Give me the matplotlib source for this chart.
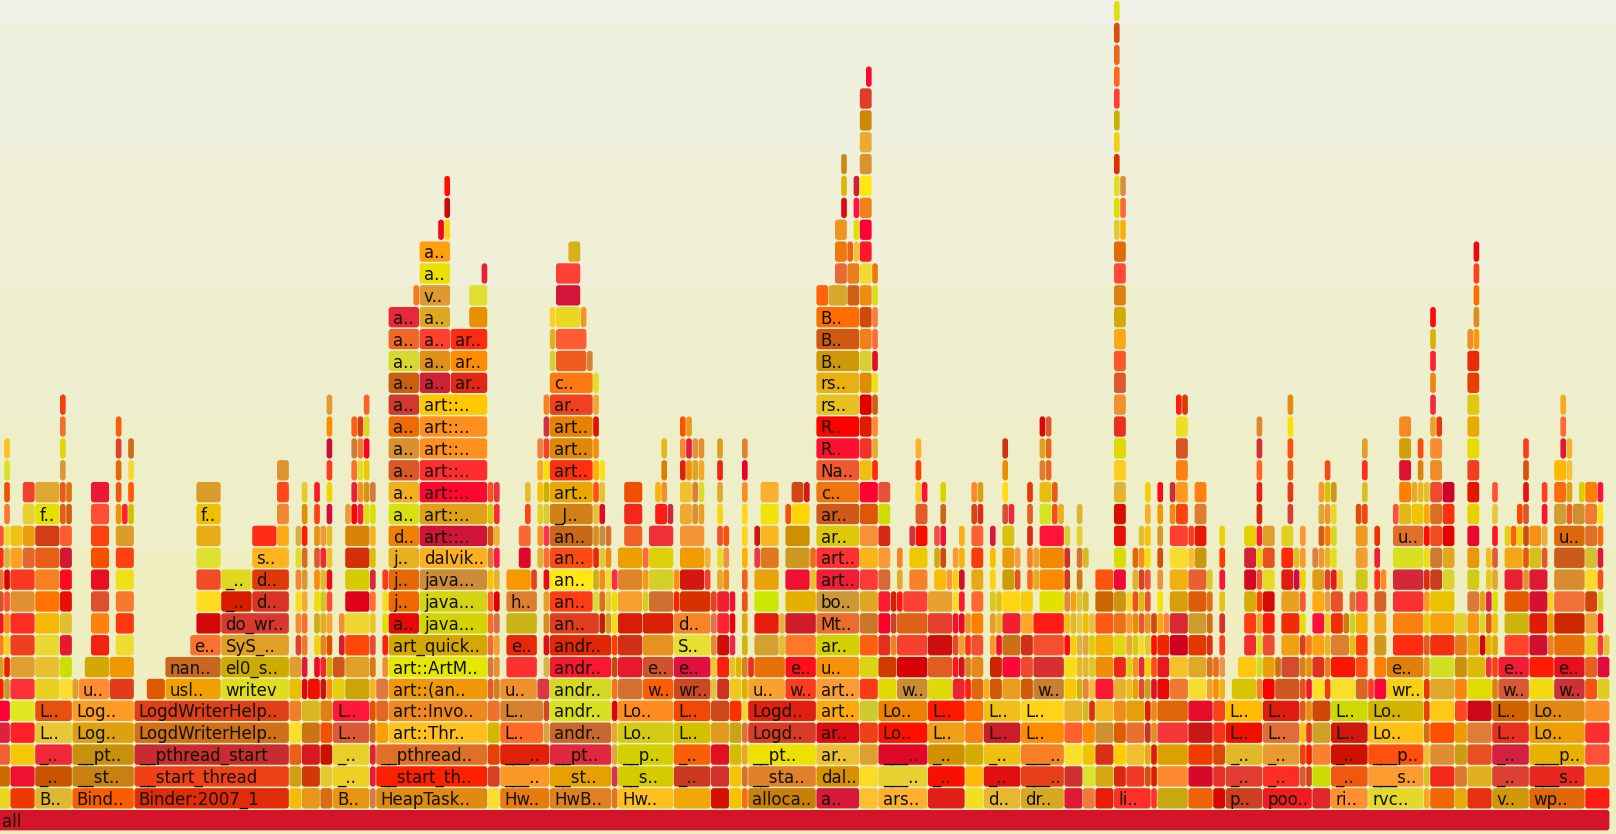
import matplotlib
matplotlib.use('Agg')
import matplotlib.pyplot as plt
from matplotlib.patches import FancyBboxPatch

# Flame graph frames per stack level: (first sample, sample count, colour, label)
level_00 = [(-1,260,'d41428','all')]
level_01 = [(-1,2,'e8d820'),(1,4,'ee3a00'),(5,6,'e0b830','B..'),(11,10,'fa5c00','Bind..'),(21,25,'e02c08','Binder:2007_1'),(46,2,'f5bb0a'),(48,3,'e8951a'),(51,2,'d96c14'),(53,6,'e8960f','B..'),(59,1,'d67a4a'),(60,18,'e08a10','HeapTask..'),(78,2,'fedc30'),(80,8,'e87a10','Hw..'),
 (88,10,'e08020','HwB..'),(98,1,'e0761c'),(99,9,'ffc020','Hw..'),(108,6,'f0a808'),(114,3,'d81000'),(117,2,'f4c400'),(119,1,'ff6a10'),(120,11,'c88008','alloca..'),(131,7,'d81838','a..'),(138,3,'ffc030'),(141,8,'ffb030','ars..'),(149,6,'e02018'),(155,3,'f0e020'),(158,6,'e8b830','d..'),(164,7,'d8a820','dr..'),(171,3,'e01830'),
 (174,2,'ee7a3e'),(176,3,'e81c08'),(179,6,'ff3028','li..'),(185,1,'ff3030'),(186,5,'c8a810'),(191,4,'ee6208'),(195,2,'d80800'),(197,6,'cc4020','p..'),(203,8,'ee1c20','poo..'),(211,3,'e02828'),(214,6,'ff9030','ri..'),(220,9,'e4d828','rvc..'),(229,1,'f8a820'),(230,4,'ee6808'),(234,2,'e8ac08'),(236,4,'e83010'),(240,6,'d09808','v..'),(246,9,'e06808','wp..'),(255,4,'ff1c14')]
level_02 = [(-1,2,'d06a00'),(1,4,'f01030'),(5,6,'c85400','_..'),(11,10,'c88010','__st..'),(21,25,'f04018','__start_thread'),(46,2,'d0a010'),(48,3,'d03808'),(51,2,'e8c830'),(53,6,'eed020','_..'),(59,1,'e81838'),(60,18,'ff2000','__start_th..'),(78,2,'d84028'),(80,8,'fc9824','___..'),
 (88,10,'e8a000','__st..'),(98,1,'d83050'),(99,9,'d4cc00','__s..'),(108,6,'cc3820','_..'),(114,3,'d43030'),(117,2,'f4c408'),(119,1,'d87030'),(120,11,'e08028','__sta..'),(131,7,'d89000','dal..'),(138,3,'f8dc28'),(141,8,'e8d030','___..'),(149,6,'f81000','_..'),(155,3,'ffb808'),(158,6,'e01010','_..'),(164,7,'e84018','___..'),(171,3,'d03030'),
 (174,2,'d8e430'),(176,3,'d4a810'),(179,2,'dd2810'),(181,3,'f03a28'),(184,1,'d05010'),(185,1,'d82000'),(186,5,'ff8830'),(191,4,'d80828'),(195,2,'e83028'),(197,6,'e03c30','_..'),(203,6,'ff2c24','_..'),(209,1,'d85a30'),(210,1,'d8401f'),(211,3,'ccdc00'),(214,6,'f05810','_..'),(220,9,'fc9c30','___s..'),(229,1,'d8c020'),(230,4,'f42818'),(234,2,'dc7830'),(236,4,'e0b020'),(240,6,'dc4030','_..'),(246,9,'e82820','___s..'),(255,4,'e8a000')]
level_03 = [(-1,2,'f06030'),(1,4,'f4c808'),(5,6,'ee2838','_..'),(11,10,'c8900c','__pt..'),(21,25,'c82c30','__pthread_start'),(46,2,'e8601a'),(48,3,'d81820'),(51,2,'c81000'),(53,6,'e8d028','_..'),(59,1,'e02040'),(60,18,'e07028','__pthread..'),(78,2,'e84008'),(80,8,'e02008','___..'),
 (88,10,'e02840','__pt..'),(98,1,'dcaa30'),(99,9,'d4d000','__p..'),(108,6,'f86008','_..'),(114,3,'e01020'),(117,2,'d4bc00'),(119,1,'e8a828'),(120,11,'eee000','__pt..'),(131,7,'ecc030','ar..'),(138,3,'e0a030'),(141,8,'e00828','___..'),(149,6,'d09000','_..'),(155,3,'d4ac00'),(158,6,'f0c010','_..'),(164,7,'f88024','___..'),(171,3,'ffe028'),
 (174,2,'f0c400'),(176,3,'d83018'),(179,2,'ffcc00'),(181,3,'f0c030'),(184,1,'e8a818'),(185,1,'dc1c08'),(186,5,'dca000'),(191,4,'f03c00'),(195,2,'d84808'),(197,6,'e0b828','_..'),(203,6,'e89c30','_..'),(209,1,'f04010'),(210,1,'f02000'),(211,3,'f88030'),(214,6,'d01000','_..'),(220,9,'ff5010','___p..'),(229,1,'f0c030'),(230,4,'e08c30'),(234,2,'cc9c14'),(236,4,'e85020'),(240,6,'d42040','_..'),(246,9,'e8b000','___p..'),(255,4,'ff5038')]
level_04 = [(-1,2,'e02040'),(1,4,'ff2028'),(5,6,'e8c838','L..'),(11,10,'dca010','Log..'),(21,25,'d07018','LogdWriterHelp..'),(46,2,'f8e028'),(48,3,'cc7410'),(51,2,'f05008'),(53,6,'dc5838','L..'),(59,1,'cc6818'),(60,2,'f8a008'),(62,16,'ffc020','art::Thr..'),(78,2,'d4b800'),(80,7,'ff6a28','L..'),(87,1,'d8a040'),
 (88,10,'c86830','andr..'),(98,1,'e8a830'),(99,9,'d4cc14','Lo..'),(108,6,'d4c000','L..'),(114,3,'e09a20'),(117,2,'c8a418'),(119,1,'e07038'),(120,11,'d83c28','Logd..'),(131,7,'e00c14','ar..'),(138,3,'f04018'),(141,8,'ff1000','Lo..'),(149,6,'f0a018','L..'),(155,3,'f88010'),(158,6,'cc1c2c','L..'),(164,7,'ff8c00','L..'),(171,3,'ff6030'),
 (174,2,'ff8800'),(176,3,'d09030'),(179,2,'e05c00'),(181,3,'e87030'),(184,1,'cc3030'),(185,1,'e09020'),(186,5,'f43838'),(191,4,'c81818'),(195,2,'fc3018'),(197,6,'f01000','L..'),(203,6,'e06c38','L..'),(209,1,'ffc010'),(210,1,'e83818'),(211,3,'d0a028'),(214,6,'d01810','L..'),(220,9,'ffc014','Lo..'),(229,1,'cc7010'),(230,4,'ff5000'),(234,2,'ec9c00'),(236,4,'e07c38'),(240,6,'e83020','L..'),(246,9,'f09c08','Lo..'),(255,4,'ff2c30')]
level_05 = [(-1,2,'ff0038'),(1,4,'e0e820'),(5,6,'e85010','L..'),(11,10,'fc9c24','Log..'),(21,25,'e04018','LogdWriterHelp..'),(46,2,'ee8028'),(48,3,'d8b820'),(51,2,'e08010'),(53,6,'ff1838','L..'),(59,1,'e85000'),(60,2,'e06820'),(62,16,'f08820','art::Invo..'),(78,2,'f07030'),(80,7,'d88030','L..'),(87,1,'d04820'),
 (88,10,'d8e020','andr..'),(98,1,'e00010'),(99,9,'ff8c20','Lo..'),(108,6,'f04808','L..'),(114,3,'cc4818'),(117,2,'ff3000'),(119,1,'f4d830'),(120,11,'e02010','Logd..'),(131,7,'ffa810','art..'),(138,3,'cccc30'),(141,8,'f08000','Lo..'),(149,6,'ff1800','L..'),(155,3,'fc7000'),(158,6,'f0c018','L..'),(164,7,'ffd418','L..'),(171,3,'e8b428'),
 (174,1,'d4b820'),(175,1,'d83010'),(176,3,'f4b820'),(179,2,'f08c18'),(181,3,'e4a008'),(184,1,'e02000'),(185,1,'e88a20'),(186,5,'e06408'),(191,4,'e80c2c'),(195,2,'fc4018'),(197,6,'ffbc00','L..'),(203,6,'e01c10','L..'),(209,1,'e05a20'),(210,1,'e88c10'),(211,3,'d04808'),(214,6,'cfd800','L..'),(220,9,'d4b400','Lo..'),(229,1,'f04000'),(230,4,'ffc814'),(234,2,'ff4820'),(236,4,'cc0818'),(240,6,'d06000','L..'),(246,9,'e08810','Lo..'),(255,4,'fc8c28')]
level_06 = [(-1,1,'ff2000'),(0,1,'c89830'),(1,4,'ff3038'),(5,4,'e8d020'),(9,2,'ffdc30'),(11,1,'e0a028'),(12,5,'ff8c30','u..'),(17,4,'e03c1c'),(23,3,'e05800'),(26,9,'f0a000','usl..'),(35,11,'e0dc20','writev'),(46,2,'e8c000'),(48,1,'e00808'),(49,2,'f01000'),(51,1,'c81410'),(52,1,'ff8c10'),(53,2,'e8d010'),(55,4,'cca408'),(59,1,'f8b420'),(60,2,'e07840'),(62,16,'f09808','art::(an..'),(78,1,'e85828'),(79,1,'d08020'),(80,6,'f0902c','u..'),(86,2,'d83848'),
 (88,10,'d4d820','andr..'),(98,1,'f87020'),(99,4,'d47030'),(103,5,'ff5c08','w..'),(108,6,'cc4820','wr..'),(114,1,'e8c040'),(115,2,'d03020'),(117,2,'f0c820'),(119,1,'e0b000'),(120,6,'f8a030','u..'),(126,5,'ff3c20','w..'),(131,7,'fc9c34','art..'),(138,3,'fc3c18'),(141,3,'e0d800'),(144,5,'cc8c30','w..'),(149,4,'e0d808'),(153,2,'f02430'),(155,1,'ff1c10'),(156,2,'e06808'),(158,1,'ffa818'),(159,2,'d05808'),(161,3,'e89c20'),(164,2,'d05808'),(166,5,'c88030','w..'),(171,2,'f8c800'),(173,1,'d4b010'),
 (174,1,'e08840'),(175,1,'ffb838'),(176,3,'ff1830'),(179,2,'e8b030'),(181,1,'eebc20'),(182,1,'e8a000'),(183,1,'e04c30'),(184,1,'c8a020'),(185,1,'e01028'),(186,2,'e60a08'),(188,3,'f07830'),(191,3,'f8dc30'),(194,1,'f0a030'),(195,1,'f89000'),(196,1,'f0b020'),(198,4,'d8c400'),(202,1,'f08020'),(203,2,'ff0000'),(205,4,'d05820'),(209,1,'e85018'),(210,1,'f01830'),(211,2,'ffe020'),(213,1,'f04000'),(214,4,'f8e028'),(218,2,'d86820'),(220,1,'f83c28'),(221,2,'ff0838'),(223,6,'f8d010','wr..'),(229,1,'e83800'),(230,4,'e0a828'),(234,2,'ff8410'),(236,4,'e0dc00'),(240,1,'e08010'),(241,5,'d85838','w..'),(246,4,'f4d810'),(250,5,'cc3038','w..'),(255,2,'f45410'),(257,2,'e0cc20')]
level_07 = [(-1,1,'d8a020'),(0,1,'ee2000'),(1,4,'e0a030'),(5,4,'e8c030'),(9,2,'cce000'),(13,4,'d4a800'),(17,4,'f09800'),(26,9,'c86820','nan..'),(35,11,'ccac00','el0_s..'),(46,2,'e09c30'),(48,1,'e01840'),(50,1,'ee0820'),(51,1,'ff2030'),(52,1,'d4b000'),(53,2,'cc5818'),(55,4,'e0a028'),(59,1,'d87818'),(61,1,'f09030'),(62,16,'e4e800','art::ArtM..'),(78,1,'d87840'),(79,1,'e89030'),(81,5,'ff3030'),(87,1,'d4b840'),
 (88,10,'f81830','andr..'),(98,1,'c84808'),(99,4,'e81830'),(103,5,'d05030','e..'),(108,6,'e01040','e..'),(114,1,'f0c828'),(115,2,'fc2010'),(117,1,'e8c020'),(118,1,'d8b800'),(119,1,'d88020'),(120,1,'e83020'),(121,5,'e87008'),(126,5,'ff1018','e..'),(131,7,'f89008','u..'),(138,3,'d8d410'),(141,3,'d03c00'),(144,5,'d80008'),(149,4,'e05c20'),(153,1,'ff1420'),(154,1,'d81020'),(155,1,'d88020'),(156,2,'e88818'),(159,2,'cc2400'),(161,3,'ff0838'),(164,2,'f04830'),(166,5,'d83030'),(171,2,'f8dc14'),(173,1,'e8b820'),
 (174,1,'e0b838'),(175,1,'e0c820'),(176,3,'f08c08'),(179,2,'ee2818'),(181,1,'e0d010'),(182,1,'f89018'),(183,1,'e82838'),(184,1,'f8d000'),(185,1,'f85010'),(186,2,'e81820'),(188,3,'f8c028'),(191,3,'e0a828'),(194,1,'d87020'),(195,1,'f06c18'),(196,1,'e89850'),(199,3,'ffc810'),(202,1,'d0dc20'),(203,2,'e8a008'),(205,1,'d07010'),(206,3,'d44c30'),(209,1,'d88018'),(210,1,'e89010'),(211,2,'e03020'),(213,1,'ec7c18'),(214,4,'f81800'),(218,2,'fc4c14'),(221,2,'ff8000'),(223,6,'e0800c','e..'),(229,1,'e89820'),(230,4,'d0e020'),(234,2,'cc9010'),(236,3,'e0b808'),(239,1,'f03040'),(240,1,'ff4010'),(241,5,'f01c38','e..'),(246,4,'ff1c00'),(250,5,'e81020','e..'),(255,2,'e86020'),(257,2,'e00c40')]
level_08 = [(-1,1,'ff8010'),(0,1,'f0d020'),(1,4,'ee4020'),(5,4,'e8d830'),(9,2,'e81830'),(14,3,'f42010'),(18,3,'f0dc30'),(30,5,'fc7030','e..'),(35,11,'e0a028','SyS_..'),(47,1,'e04030'),(48,1,'f07828'),(50,1,'f0d010'),(51,1,'e08818'),(52,1,'e05000'),(54,1,'d81c30'),(55,4,'ff4808'),(59,1,'e84838'),(61,1,'ff2010'),(62,16,'d4a800','art_quick..'),(78,1,'f06c30'),(79,1,'f0a030'),(81,5,'e82808','e..'),(87,1,'d81018'),
 (88,10,'e02808','andr..'),(98,1,'ff4000'),(99,4,'d03018'),(103,5,'e89020'),(108,6,'e8e030','S..'),(114,1,'e08838'),(115,2,'cc1008'),(117,1,'e82848'),(119,1,'d4b410'),(121,4,'d4a030'),(125,1,'e0c030'),(126,5,'ff7828'),(131,7,'d4d000','ar..'),(138,3,'ff6010'),(141,2,'e03020'),(143,1,'f08028'),(144,5,'f84030'),(149,4,'cc1010'),(153,1,'e84828'),(154,1,'f0a028'),(155,1,'ff3018'),(156,2,'f05030'),(159,1,'ff9820'),(160,1,'f01030'),(161,3,'cc7018'),(164,2,'d03018'),(166,5,'f45030'),(171,1,'ff0c10'),(172,1,'f8d000'),(173,1,'e0b040'),
 (174,1,'e0a838'),(175,1,'e0cc00'),(176,3,'f4b000'),(179,2,'e0d810'),(181,1,'e8a830'),(182,1,'d8c810'),(183,1,'f0dc30'),(184,1,'e0c830'),(185,1,'ff1000'),(186,2,'f02400'),(188,3,'d00020'),(191,3,'e03800'),(194,1,'d83010'),(196,1,'ff3c20'),(200,2,'f42c30'),(202,1,'d4e020'),(203,2,'f04c30'),(206,3,'f0a010'),(209,1,'d84020'),(210,1,'ff7818'),(211,2,'ffa010'),(213,1,'f0b020'),(214,3,'dc8030'),(217,1,'e8c010'),(218,2,'ff3c08'),(221,2,'d49818'),(224,5,'ff2c10'),(229,1,'e05c20'),(230,4,'f03010'),(234,2,'e87818'),(236,2,'e8a808'),(238,1,'d00808'),(239,1,'e8b000'),(240,1,'dcac00'),(242,4,'ff4428'),(246,3,'d01030'),(249,1,'f08028'),(250,5,'e87008'),(255,2,'e8cc20'),(257,1,'ff3838'),(258,1,'e8c030')]
level_09 = [(-1,1,'ee1820'),(0,1,'f89018'),(1,4,'ff2c24'),(5,4,'f8b808'),(9,2,'e0c030'),(14,3,'ff8010'),(18,3,'ff3810'),(31,4,'d40808'),(35,11,'d83830','do_wr..'),(47,1,'f88830'),(48,1,'f87030'),(50,1,'ccac18'),(51,1,'e0b020'),(52,1,'f8a030'),(54,1,'f88c30'),(55,4,'f0d430'),(59,1,'e8c828'),(61,1,'e0e000'),(62,5,'e80808','a..'),(67,11,'d4d400','java...'),(78,1,'ff6828'),(79,1,'d87048'),(81,5,'ccb418'),(87,1,'d88c20'),
 (88,8,'e03c20','an..'),(96,1,'c81c10'),(97,1,'d89818'),(98,1,'f8dc10'),(99,4,'d81c08'),(103,5,'dc2008'),(108,6,'f88428','d..'),(114,1,'e07050'),(115,2,'ff2430'),(117,1,'e80010'),(119,1,'e0a810'),(121,4,'e81c0c'),(125,1,'e8b040'),(126,5,'d01c28'),(131,7,'ec6c30','Mt..'),(138,3,'cc7428'),(141,2,'ff0028'),(143,1,'cc4030'),(144,5,'e06018'),(149,4,'e84030'),(153,1,'f81028'),(154,1,'e80c28'),(155,1,'f09420'),(156,2,'ff8000'),(159,1,'e89c28'),(160,1,'e8b820'),(161,3,'f02030'),(164,2,'ffa828'),(166,5,'ff1c14'),(171,1,'ffb810'),(172,1,'e0b828'),(173,1,'e8c840'),
 (174,1,'f0c000'),(175,1,'e8c040'),(176,3,'ff5814'),(179,2,'f07018'),(181,1,'ff9830'),(182,1,'e88c00'),(183,1,'e85830'),(184,1,'e89820'),(185,1,'cc4818'),(186,1,'ffa408'),(187,1,'f88040'),(188,3,'d82830'),(191,3,'cc9c30'),(194,1,'d07018'),(196,1,'d83028'),(200,2,'ff3c14'),(202,1,'f0a430'),(203,2,'fc1808'),(206,3,'f02c08'),(209,1,'e8dc00'),(211,2,'ff1038'),(213,1,'e8cc20'),(214,2,'ee3008'),(216,1,'cc7c10'),(217,1,'c8d428'),(218,2,'f8ac08'),(221,2,'f0a418'),(224,5,'fc8010'),(229,1,'e8c808'),(230,4,'f8a408'),(234,2,'e0d030'),(236,2,'f89810'),(238,1,'d8d830'),(239,1,'e85a10'),(240,1,'f0c010'),(242,4,'ccb40c'),(246,3,'e01c08'),(249,1,'f09800'),(250,5,'cc2800'),(255,2,'f0a030'),(257,1,'ff0c18')]
level_10 = [(-1,1,'d85030'),(0,1,'ff5030'),(1,4,'e09030'),(5,4,'ff7400'),(9,2,'e81000'),(14,3,'dc5030'),(18,3,'f87830'),(31,4,'ffdc20'),(35,5,'d81c00','_..'),(40,6,'d83428','d..'),(47,1,'ffdc10'),(48,1,'f8a830'),(50,1,'eedc00'),(51,1,'d4c418'),(52,1,'ff4c30'),(55,4,'e00018'),(59,1,'ff7030'),(61,1,'f8dc20'),(62,5,'f06800','j..'),(67,11,'d4d414','java...'),(78,1,'ff6030'),(79,1,'e00000'),(81,5,'dc8030','h..'),(87,1,'e8a020'),
 (88,7,'ff3c14','an..'),(95,1,'d4dc30'),(96,1,'d87020'),(97,1,'e8c830'),(98,1,'e8e000'),(99,4,'f8a030'),(103,1,'d4d020'),(104,4,'d07030'),(108,1,'ff2000'),(109,5,'d83000'),(114,1,'e84020'),(115,2,'f02030'),(117,1,'f01030'),(119,1,'f05010'),(121,4,'cce800'),(126,5,'e4b000'),(131,7,'cc9838','bo..'),(138,3,'e0a820'),(141,2,'ff1c30'),(143,1,'d02000'),(144,1,'ff1810'),(145,4,'ff4038'),(149,4,'e8a030'),(153,1,'f8e020'),(154,1,'ff1830'),(156,2,'ff6830'),(159,1,'d8c820'),(160,1,'e8c010'),(161,3,'ffd410'),(164,2,'f8cc08'),(167,4,'e4e000'),(171,1,'e08840'),(172,1,'f8a010'),(173,1,'e0c038'),
 (174,1,'d4b820'),(176,3,'cc6400'),(179,2,'cc9410'),(181,1,'f8d830'),(182,1,'ee5010'),(183,1,'e0b810'),(184,1,'f05030'),(186,1,'f8e000'),(188,3,'d8a008'),(191,3,'e05c08'),(194,1,'e86c18'),(196,1,'e8c018'),(200,2,'d8ac08'),(202,1,'ff4000'),(203,2,'d80808'),(206,3,'e8a020'),(209,1,'f85830'),(211,2,'ffa810'),(213,1,'e89848'),(214,2,'e85028'),(217,1,'dc7030'),(218,2,'ff4840'),(221,2,'d86028'),(224,5,'f83030'),(229,1,'f89820'),(230,4,'e8c400'),(236,2,'dc7838'),(238,1,'e8a010'),(239,1,'e01c50'),(240,1,'d8e000'),(242,4,'e85800'),(246,3,'d81030'),(249,1,'ffd020'),(250,5,'f07038'),(255,2,'d44010'),(257,1,'d8d830')]
level_11 = [(-1,1,'f07030'),(0,1,'d00800'),(1,4,'f83820'),(5,4,'f88020'),(9,2,'ff0820'),(14,3,'e81020'),(18,3,'f0e018'),(31,4,'f04c28'),(35,5,'e0d820','_..'),(40,6,'e03808','d..'),(47,1,'f08830'),(48,1,'d89838'),(50,1,'ff8810'),(51,1,'e0b830'),(52,1,'e81010'),(55,4,'d4cc00'),(59,1,'d82840'),(61,1,'ff3820'),(62,5,'e86808','j..'),(67,11,'cc8c38','java...'),(78,1,'ffc000'),(79,1,'e8b030'),(81,4,'f89800'),(85,1,'e84020'),(87,1,'e80c10'),
 (88,7,'ffe814','an..'),(95,1,'d0b010'),(96,1,'f88820'),(97,1,'f0dc20'),(98,1,'ff2848'),(99,4,'e08428'),(103,1,'f89818'),(104,4,'d4d028'),(108,1,'ff9010'),(109,4,'d41810'),(113,1,'ff3830'),(115,1,'e8a828'),(116,1,'f08818'),(119,1,'f06020'),(121,4,'e8a408'),(126,4,'f01030'),(130,1,'e8c028'),(131,7,'f01c38','art..'),(138,3,'ff3838'),(141,2,'d86838'),(144,1,'e8a830'),(146,3,'f88028'),(150,2,'ffb808'),(152,1,'fc9838'),(153,1,'f8d000'),(154,1,'d01030'),(156,2,'e8a818'),(159,1,'ffd010'),(161,2,'cc9c08'),(163,1,'e85020'),(165,1,'ff6814'),(166,1,'e8a820'),(167,4,'ff8800'),(171,1,'d03818'),(173,1,'d07818'),
 (176,3,'ff5410'),(179,2,'f00838'),(182,1,'e0b030'),(183,1,'d84020'),(184,1,'f85038'),(186,1,'f09038'),(188,3,'f0b010'),(191,3,'e86030'),(194,1,'d8c828'),(196,1,'ff1038'),(200,2,'d40820'),(202,1,'ee5838'),(203,2,'e8dc20'),(206,2,'e01c10'),(208,1,'d00c48'),(209,1,'f0d000'),(211,2,'e09818'),(213,1,'e04030'),(214,1,'e81818'),(215,1,'f0c830'),(218,2,'d0c818'),(221,1,'ff3018'),(222,1,'fc8828'),(224,5,'d42838'),(229,1,'d83010'),(230,2,'cc3c20'),(232,2,'d8d430'),(236,2,'d0cc14'),(239,1,'e8c818'),(240,1,'e0a830'),(242,3,'e82030'),(245,1,'e89030'),(246,3,'e01838'),(250,5,'d88c30'),(255,2,'f8dc28'),(257,1,'f85018')]
level_12 = [(-1,1,'ff3018'),(0,1,'d8b440'),(1,2,'ffa020'),(3,2,'e06830'),(5,4,'e86018'),(9,2,'d41830'),(14,3,'f85000'),(18,3,'ff4010'),(31,4,'e0e030'),(40,6,'ffb420','s..'),(47,1,'dce020'),(48,1,'e06828'),(50,1,'e05830'),(51,1,'f02838'),(52,1,'f0c030'),(55,4,'d43008'),(59,1,'d8c000'),(62,5,'e8b020','j..'),(67,11,'ffb020','dalvik..'),(78,1,'e07830'),(79,1,'ff1848'),(83,2,'e00828'),(86,1,'e0b030'),(87,1,'f87030'),
 (88,7,'fc4c14','an..'),(95,1,'e82808'),(96,1,'dccc30'),(97,1,'f08a10'),(99,4,'eca000'),(103,1,'ff6838'),(104,4,'e0d008'),(109,4,'f09c00'),(113,1,'f8b030'),(115,1,'e4dc20'),(116,1,'f09040'),(119,1,'ffb000'),(121,1,'e83848'),(122,3,'e07820'),(126,4,'cc9820'),(130,1,'f06818'),(131,7,'ff3030','art..'),(138,3,'f8b418'),(141,2,'fc9838'),(144,1,'f88028'),(146,3,'f0c800'),(150,1,'ccac14'),(151,1,'d44810'),(153,1,'fc9838'),(154,1,'fcb010'),(156,2,'f83c08'),(159,1,'f8c000'),(161,2,'e89c08'),(163,1,'f89840'),(165,1,'f88028'),(166,1,'f0a030'),(167,4,'f08800'),(171,1,'d03028'),(173,1,'e07030'),
 (174,1,'d4bc20'),(179,2,'d8dc00'),(182,1,'e06808'),(183,1,'ff8820'),(184,1,'f8e000'),(186,1,'d84c10'),(188,3,'f8dc30'),(191,1,'ffbc30'),(192,2,'cc9808'),(196,1,'ff3c00'),(200,2,'d42038'),(202,1,'f0d000'),(203,2,'e85020'),(206,2,'ff2808'),(208,1,'e0c020'),(209,1,'ff9830'),(211,1,'e08040'),(212,1,'f09830'),(213,1,'f0b020'),(214,1,'e0e010'),(218,2,'f0a030'),(221,1,'f01c38'),(224,5,'d8e020'),(229,1,'f0dc14'),(230,2,'cc7c30'),(232,2,'e0a820'),(236,2,'e89808'),(239,1,'f0c020'),(240,1,'e05c38'),(242,3,'f4a818'),(245,1,'e85808'),(246,2,'d4c018'),(248,1,'e05830'),(250,5,'cc5a18'),(255,2,'d4c030'),(257,1,'e01838')]
level_13 = [(-1,1,'ff5030'),(0,1,'f0d830'),(1,2,'f0c014'),(3,2,'ec9c0c'),(5,4,'d43c18'),(9,2,'ff5a30'),(14,3,'ff4010'),(18,3,'dc9c28'),(31,4,'e8ac14'),(40,4,'ff2c18'),(44,2,'ffac14'),(47,1,'d8b040'),(48,1,'ff1c00'),(50,1,'e89010'),(51,1,'f09838'),(52,1,'e8b820'),(55,4,'d88408'),(59,1,'f8b020'),(62,5,'f08000','d..'),(67,11,'d01438','art::..'),(78,1,'d85010'),(79,1,'f0b030'),(83,2,'f86830'),(86,1,'f89020'),(87,1,'ff3050'),
 (88,7,'c86818','an..'),(95,1,'d89020'),(96,1,'cc8c40'),(97,1,'d87030'),(100,3,'f06028'),(104,4,'ee3038'),(109,4,'f89438'),(115,1,'f05030'),(116,1,'ff5008'),(119,1,'ffd418'),(121,1,'cc1810'),(122,3,'f8b820'),(126,4,'cc9000'),(131,7,'dcc808','ar..'),(138,3,'f89038'),(141,2,'d82818'),(146,1,'d83040'),(147,2,'ff0c00'),(150,1,'f05040'),(151,1,'f01038'),(154,1,'ffac10'),(156,2,'ff6030'),(159,1,'dc1838'),(161,2,'d8c010'),(165,1,'e02818'),(167,4,'ff1438'),(171,1,'d8d030'),(173,1,'e0d030'),
 (179,2,'e81008'),(183,1,'e0c030'),(184,1,'ffc000'),(186,1,'d89828'),(188,3,'ff4030'),(191,1,'ff3c20'),(192,2,'e81808'),(196,1,'f0d000'),(200,2,'e8d000'),(202,1,'ff1c30'),(203,2,'e0a028'),(206,2,'e0d020'),(209,1,'ff9830'),(212,1,'dc5818'),(213,1,'ff7c00'),(214,1,'d8d820'),(218,2,'f09820'),(221,1,'f03000'),(224,5,'e07028','u..'),(229,1,'ff0c00'),(230,2,'f04c20'),(232,2,'e80000'),(236,2,'e8082c'),(240,1,'ff1420'),(242,1,'e0d018'),(243,1,'ff6000'),(244,1,'f0d000'),(245,1,'cc5010'),(246,2,'f89018'),(248,1,'e8b030'),(250,5,'dc6808','u..'),(255,2,'e07028'),(257,1,'ff6810')]
level_14 = [(0,1,'f87830'),(3,2,'e8d030'),(5,4,'e4e000','f..'),(9,1,'e05c20'),(10,1,'d85c08'),(14,3,'ff5034'),(18,1,'f89000'),(19,1,'ff2038'),(20,1,'d4c000'),(31,4,'f0c000','f..'),(44,2,'f08830'),(48,1,'e09000'),(50,1,'ff4010'),(52,1,'d01038'),(55,1,'e89c38'),(56,1,'ff0000'),(57,1,'ff1c30'),(58,1,'dce010'),(59,1,'d8e400'),(62,5,'d8e010','a..'),(67,11,'e0a018','art::..'),(78,1,'dcc400'),(79,1,'ff2838'),(84,1,'ff4418'),(86,1,'e8d020'),(87,1,'d8cc30'),
 (88,7,'d48018','_J..'),(95,1,'e8c030'),(96,1,'e00c28'),(100,3,'f42818'),(105,2,'ff1c14'),(107,1,'d02840'),(109,2,'f0a830'),(111,1,'d89030'),(112,1,'e8a020'),(115,1,'ffd010'),(119,1,'ffd810'),(122,3,'f0e408'),(126,1,'f85008'),(127,3,'ffd408'),(131,7,'d05818','ar..'),(138,3,'dc5808'),(141,2,'d0dc00'),(147,2,'e05c28'),(151,1,'cc6818'),(156,1,'d04818'),(157,1,'e02c20'),(161,1,'d85030'),(162,1,'f02838'),(165,1,'e06020'),(167,2,'d4e420'),(169,1,'ff4c14'),(170,1,'e8b020'),(173,1,'e0b430'),
 (179,2,'d41000'),(184,1,'f8b028'),(186,1,'ec9c00'),(188,1,'f08818'),(189,2,'ff4410'),(192,2,'e07c30'),(202,1,'d82810'),(207,1,'d44038'),(212,1,'d8a830'),(213,1,'f89030'),(214,1,'e0dc20'),(218,1,'d85008'),(219,1,'f04810'),(224,1,'ff5040'),(225,2,'e0b818'),(227,2,'f0c400'),(229,1,'f8a808'),(230,2,'d87020'),(232,2,'ff3010'),(236,2,'e8d000'),(240,1,'e8c838'),(244,1,'ff4800'),(245,1,'d85830'),(248,1,'ff1030'),(250,2,'cca030'),(252,1,'ee6020'),(253,2,'cc9030'),(255,2,'f07c30'),(257,1,'ffe010')]
level_15 = [(0,1,'f05000'),(3,2,'f04030'),(5,4,'e0a830'),(9,1,'e85820'),(10,1,'e07010'),(14,3,'f01830'),(18,1,'f05810'),(20,1,'ff5800'),(31,4,'d89c28'),(44,2,'ff4818'),(48,1,'e8c830'),(50,1,'ff1820'),(52,1,'f0d400'),(56,1,'e82038'),(57,1,'ff8c20'),(58,1,'d09810'),(59,1,'d87840'),(62,5,'f0b020','a..'),(67,11,'ff0830','art::..'),(78,1,'ff5020'),(79,1,'f03040'),(84,1,'e8b830'),(86,1,'f8c000'),(87,1,'ccb000'),
 (88,7,'e8a800','art..'),(95,1,'ff5010'),(96,1,'e8c030'),(100,3,'ee5000'),(105,1,'ffb010'),(106,1,'f09030'),(109,2,'f0c028'),(111,1,'d88038'),(112,1,'e0d830'),(115,1,'e0a830'),(119,1,'ff8c20'),(122,3,'f8b030'),(127,2,'d04818'),(129,1,'d81818'),(131,7,'f07410','c..'),(138,3,'ff0030'),(141,2,'e85038'),(147,1,'ffcc20'),(148,1,'ff1038'),(151,1,'e0d000'),(156,1,'ff8828'),(157,1,'d8a014'),(161,1,'ffdc10'),(165,1,'e83808'),(167,2,'e8bc10'),(169,1,'e06018'),
 (179,2,'e0b430'),(184,1,'f0d000'),(186,1,'ff0814'),(188,1,'d03030'),(189,2,'ff9820'),(192,2,'ff8010'),(202,1,'e82018'),(207,1,'e83818'),(212,1,'f89830'),(213,1,'d8c008'),(214,1,'cc9820'),(219,1,'d4c020'),(225,2,'ff8000'),(227,1,'e8a828'),(228,1,'e8b820'),(229,1,'e0c030'),(230,2,'ee4c30'),(232,2,'d00028'),(236,2,'e01800'),(240,1,'ff5038'),(245,1,'e81018'),(248,1,'ff4020'),(250,2,'ff6c10'),(252,1,'e0a010'),(254,1,'d8d000'),(255,2,'ff8000'),(257,1,'ff1040')]
level_16 = [(0,1,'d8e020'),(9,1,'d89838'),(18,1,'e06c08'),(20,1,'f8d830'),(44,2,'e09430'),(52,1,'ff3c18'),(56,1,'f87030'),(57,1,'e0e020'),(58,1,'ecc800'),(62,5,'dc5828','a..'),(67,11,'ff2c30','art::..'),(86,1,'f8a820'),(87,1,'f8e000'),
 (88,7,'ff3010','art..'),(95,1,'ffb000'),(96,1,'f8e020'),(106,1,'d88000'),(109,1,'e02008'),(110,1,'f09010'),(111,1,'d8a820'),(112,1,'f8a828'),(115,1,'ec2808'),(119,1,'e80030'),(131,7,'f05830','Na..'),(138,2,'f0c010'),(140,1,'ff2c08'),(147,1,'ff4000'),(161,1,'e89000'),(167,1,'e07c30'),(168,1,'e86820'),
 (179,2,'ffcc20'),(189,2,'ff8010'),(202,1,'ff6420'),(207,1,'f05c14'),(213,1,'f84818'),(219,1,'ff2c20'),(225,2,'e01030'),(228,1,'e08010'),(230,2,'f08c28'),(236,2,'f04020'),(245,1,'d85010'),(250,2,'ffb800'),(252,1,'f8c030')]
level_17 = [(0,1,'ffc020'),(9,1,'e0d800'),(18,1,'e04030'),(20,1,'d06818'),(52,1,'cc1038'),(56,1,'cc7c38'),(57,1,'f87830'),(58,1,'ff0020'),(62,5,'d89030','a..'),(67,11,'ff9020','art::..'),(86,1,'f08040'),(87,1,'ff4028'),
 (88,7,'e08808','art..'),(95,1,'f49000'),(106,1,'e8b818'),(109,1,'ff8430'),(110,1,'e81848'),(111,1,'e89038'),(112,1,'e88c30'),(115,1,'d8a018'),(119,1,'e08430'),(131,7,'ff1030','R..'),(138,2,'f03428'),(140,1,'e8a828'),(147,1,'ffb030'),(161,1,'d03010'),(167,1,'e0a020'),(168,1,'e86818'),
 (179,2,'e0d800'),(189,2,'d85420'),(202,1,'d43038'),(207,1,'ff5010'),(219,1,'e0a030'),(225,2,'d0a008'),(228,1,'ff4c08'),(230,2,'f88c30'),(236,2,'e8dc00'),(245,1,'ff3c20'),(251,1,'e01830'),(252,1,'f0b030')]
level_18 = [(9,1,'f07030'),(18,1,'ff5c08'),(52,1,'ff8c00'),(56,1,'ff6010'),(57,1,'d83c10'),(58,1,'e0d420'),(62,5,'f06a08','a..'),(67,11,'ff9020','art::..'),(87,1,'d03040'),(88,7,'e88000','art..'),(95,1,'e01008'),(109,1,'ff5000'),(110,1,'f09818'),(131,7,'ff0000','R..'),(138,2,'e01c00'),(140,1,'ff8830'),(167,1,'d80808'),(168,1,'e05830'),
 (179,2,'e83020'),(189,2,'f0dc20'),(202,1,'e08830'),(207,1,'f8e008'),(225,2,'f88820'),(230,1,'e8a030'),(231,1,'e83808'),(236,2,'e8ac00'),(251,1,'ff6830')]
level_19 = [(9,1,'f44010'),(52,1,'e89830'),(58,1,'ff6028'),(62,5,'d03830','a..'),(67,11,'ffc800','art::..'),(87,1,'f88020'),(88,7,'f04020','ar..'),(95,1,'f0a830'),(131,7,'e8c020','rs..'),(138,2,'e00000'),(140,1,'d06010'),(179,2,'f09030'),(189,1,'ff1c10'),(190,1,'d83c00'),(207,1,'e08c10'),(230,1,'f02c38'),(236,2,'e0c810'),(251,1,'ffa820')]
level_20 = [(62,5,'c86010','a..'),(67,5,'d02038','a..'),(72,6,'e02818','ar..'),(88,7,'ff7810','c..'),(95,1,'e0e020'),(131,7,'e8b010','rs..'),(138,2,'e08c00'),(140,1,'f0e010'),(179,2,'e05830'),(230,1,'f08414'),(236,2,'e84000')]
level_21 = [(62,5,'d8d830','a..'),(67,5,'e09018','a..'),(72,6,'ff8c00','ar..'),(88,1,'d8d030'),(89,5,'f05c20'),(94,1,'d88030'),(131,7,'cc9808','B..'),(138,2,'d8d030'),(140,1,'e01020'),(179,2,'ff5828'),(230,1,'ff2030'),(236,2,'e82c08')]
level_22 = [(62,5,'f06828','a..'),(67,5,'ff4030','a..'),(72,6,'ff2c10','ar..'),(88,1,'e0b020'),(89,5,'ff5c34'),(131,7,'d05810','B..'),(138,2,'f08018'),(140,1,'ff6838'),(179,2,'f8a818'),(230,1,'d8b408'),(236,1,'f08c28'),(237,1,'ff9800')]
level_23 = [(62,5,'e82838','a..'),(67,5,'e0a820','a..'),(75,3,'e89000'),(88,1,'ffd020'),(89,4,'e8d820'),(93,1,'f09820'),(131,7,'ff6c00','B..'),(138,2,'d44808'),(140,1,'ff7c40'),(179,2,'d4a808'),(230,1,'ff0810'),(237,1,'dc8c20')]
level_24 = [(66,1,'ff7818'),(67,5,'e09830','v..'),(75,3,'e0e030'),(89,4,'d41438'),(131,2,'ff6408'),(133,3,'d8a828'),(136,2,'d06018'),(138,2,'f08c10'),(140,1,'e0dc18'),(179,2,'e08010'),(237,1,'ff6c00')]
level_25 = [(67,5,'e8e000','a..'),(77,1,'e82038'),(89,4,'ff4034'),(134,2,'e86838'),(136,2,'e8801c'),(138,2,'f0dc30'),(140,1,'f07808'),(179,2,'ff4c38'),(237,1,'ff4020')]
level_26 = [(67,5,'ffa010','a..'),(91,2,'d8b018'),(134,2,'f07808'),(136,1,'f06418'),(137,1,'ffc030'),(138,2,'ff1828'),(179,2,'e06c08'),(237,1,'e80c08')]
level_27 = [(70,1,'f00818'),(71,1,'ffd010'),(134,2,'f09420'),(137,1,'e0e000'),(138,2,'ff0038'),(179,1,'e8c830'),(180,1,'f8b010')]
level_28 = [(71,1,'cc0808'),(135,1,'dc0818'),(137,1,'ff1040'),(138,2,'f48018'),(179,1,'e0dc00'),(180,1,'ff6830')]
level_29 = [(71,1,'ff1000'),(135,1,'d8b800'),(137,1,'d02038'),(138,2,'ffe810'),(179,1,'e0dc28'),(180,1,'d89038')]
level_30 = [(135,1,'cc8818'),(138,2,'d89430'),(179,1,'e03000')]
level_31 = [(138,2,'e8ac30'),(179,1,'f0d010')]
level_32 = [(138,2,'cc8808'),(179,1,'ccb000')]
level_33 = [(138,2,'e03c28'),(179,1,'ff4030')]
level_34 = [(139,1,'ff0830'),(179,1,'ff6820')]
level_35 = [(179,1,'e86820')]
level_36 = [(179,1,'d85010')]
level_37 = [(179,1,'e0e010')]

levels = [level_00, level_01, level_02, level_03, level_04, level_05, level_06, level_07, level_08, level_09,
          level_10, level_11, level_12, level_13, level_14, level_15, level_16, level_17, level_18, level_19,
          level_20, level_21, level_22, level_23, level_24, level_25, level_26, level_27, level_28, level_29,
          level_30, level_31, level_32, level_33, level_34, level_35, level_36, level_37]

# Background bands, top to bottom: (upper level edge, lower level edge, colour)
bg_bands = [(38.1, 36.9, '#f0f0e7'), (36.9, 31.0, '#eff0de'), (31.0, 25.0, '#eff0d7'),
            (25.0, 18.9, '#eeefcf'), (18.9, 12.9, '#eeefc8'), (12.9, -0.1, '#eeeec1')]

fig = plt.figure(figsize=(16.16, 8.34), dpi=100)
ax = fig.add_axes([0, 0, 1, 1])
ax.set_xlim(-0.65, 260.0)
ax.set_ylim(-0.097, 38.04)
ax.axis('off')

for top, bottom, colour in bg_bands:
    ax.axhspan(bottom, top, color=colour, lw=0, zorder=0)

# one sample is 6.2 px wide, one level 21.87 px high
aspect = 6.2 / 21.87
for lev, frames in enumerate(levels):
    for frame in frames:
        start, samples, colour = frame[:3]
        box = FancyBboxPatch((start + 0.03, lev + 0.07), samples - 0.09, 0.93,
                             boxstyle='round,pad=0,rounding_size=0.45',
                             mutation_aspect=aspect, fc='#' + colour, ec='none', lw=0, zorder=2)
        ax.add_patch(box)
        if len(frame) > 3:
            ax.text(start + 0.72, lev + 0.46, frame[3], fontsize=12,
                    color='#111100', ha='left', va='center', zorder=3)

fig.savefig('out.png', dpi=100)
